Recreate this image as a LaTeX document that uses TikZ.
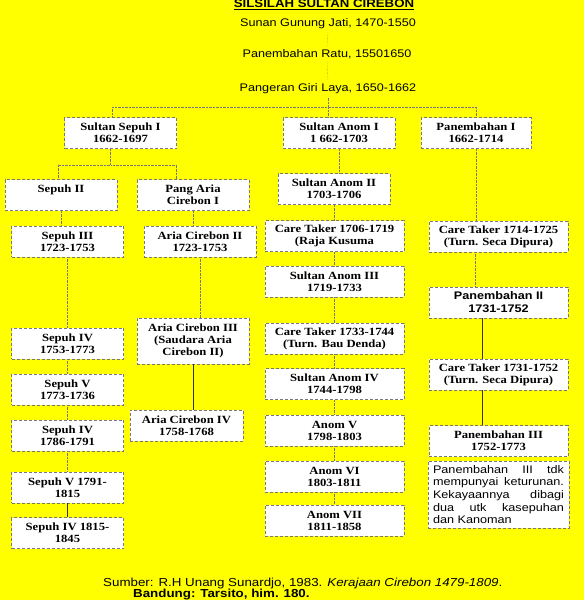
\documentclass[tikz,border=0pt]{standalone}
\usepackage{fontspec}
\setmainfont{Liberation Serif}[FakeStretch=1.15]
\setsansfont{Liberation Sans}[FakeStretch=1.15]
\usetikzlibrary{positioning}
\definecolor{bgyellow}{RGB}{255,255,0}
\definecolor{boxline}{RGB}{120,120,120}

\begin{document}
\begin{tikzpicture}[
  x=1pt, y=-1pt,
  box/.style={rectangle, draw=boxline, densely dashed, fill=white, align=center, inner sep=1pt, minimum width=112pt, minimum height=31pt, font=\fontsize{11}{12}\selectfont\bfseries},
  widebox/.style={box, minimum width=139pt},
  notebox/.style={box, minimum width=141pt, minimum height=67pt, text width=131pt, align=justify, inner xsep=5pt, font=\sffamily\fontsize{11}{12.7}\selectfont},
  link/.style={draw=boxline, densely dotted},
  strongline/.style={draw=black!80},
  headline/.style={font=\sffamily\fontsize{11}{13}\selectfont}
  ]
  \fill[bgyellow] (0,0) rectangle (584,600);
  \useasboundingbox (0,0) rectangle (584,600);

  % Heading
  \node[font=\sffamily\bfseries\fontsize{11.5}{13}\selectfont] (title) at (324,5) {\underline{SILSILAH SULTAN CIREBON}};
  \node[headline] (sunan) at (328,24) {Sunan Gunung Jati, 1470-1550};
  \node[headline] (ratu) at (327,54) {Panembahan Ratu, 15501650};
  \node[headline] (giri) at (328,89) {Pangeran Giri Laya, 1650-1662};
  \coordinate (bar) at (328,107);

  % Three houses
  \node[box] (sepuhI) at (120.5,133) {Sultan Sepuh I\\1662-1697};
  \node[box] (anomI) at (339,133) {Sultan Anom I\\1 662-1703};
  \node[box, minimum width=110pt] (panI) at (476,133) {Panembahan I\\1662-1714};

  % Kasepuhan
  \node[box] (sepuhII) at (61,195) {Sepuh II\\[1pt]};
  \node[box] (aria1) at (193,195) {Pang Aria\\Cirebon I};
  \node[box] (sepuhIII) at (67.5,241.5) {Sepuh III\\1723-1753};
  \node[box] (aria2) at (200,241.5) {Aria Cirebon II\\1723-1753};
  \node[box] (sepuhIV) at (67.5,343.5) {Sepuh IV\\1753-1773};
  \node[box, minimum height=46pt] (aria3) at (193,341) {Aria Cirebon III\\(Saudara Aria\\Cirebon II)};
  \node[box] (sepuhV) at (67.5,389.5) {Sepuh V\\1773-1736};
  \node[box, minimum width=113pt] (aria4) at (186.5,425.5) {Aria Cirebon IV\\1758-1768};
  \node[box] (sepuhIVb) at (67.5,435.5) {Sepuh IV\\1786-1791};
  \node[box] (sepuhVb) at (67.5,487.5) {Sepuh V 1791-\\1815};
  \node[box] (sepuhIVc) at (67.5,533) {Sepuh IV 1815-\\1845};

  % Kanoman
  \node[box] (anomII) at (334,189) {Sultan Anom II\\1703-1706};
  \node[widebox] (careA) at (334.5,236) {Care Taker 1706-1719\\(Raja Kusuma};
  \node[widebox] (anomIII) at (334.5,281.5) {Sultan Anom III\\1719-1733};
  \node[widebox] (careB) at (334.5,338.5) {Care Taker 1733-1744\\(Turn. Bau Denda)};
  \node[widebox] (anomIV) at (334.5,384) {Sultan Anom IV\\1744-1798};
  \node[widebox] (anomV) at (334.5,430.5) {Anom V\\1798-1803};
  \node[widebox] (anomVI) at (334.5,476.5) {Anom VI\\1803-1811};
  \node[widebox] (anomVII) at (334.5,520.5) {Anom VII\\1811-1858};

  % Panembahan
  \node[widebox] (careC) at (498.5,236.5) {Care Taker 1714-1725\\(Turn. Seca Dipura)};
  \node[widebox, font=\sffamily\bfseries\fontsize{11}{13}\selectfont] (panII) at (498.5,302.5) {Panembahan II\\1731-1752};
  \node[widebox] (careD) at (498.5,374.5) {Care Taker 1731-1752\\(Turn. Seca Dipura)};
  \node[widebox] (panIII) at (498.5,441) {Panembahan III\\1752-1773};
  \node[notebox] (note) at (498.5,494.5) {Panembahan III tdk\linebreak mempunyai keturunan.\linebreak Kekayaannya dibagi\linebreak dua utk kasepuhan\linebreak dan Kanoman};

  % Source
  \node[anchor=west, inner sep=0pt, font=\sffamily\fontsize{11.6}{13}\selectfont] (source) at (103,583) {Sumber: R.H Unang Sunardjo, 1983. \textit{Kerajaan Cirebon 1479-1809}.};
  \node[anchor=west, inner sep=0pt, font=\sffamily\bfseries\fontsize{11.6}{13}\selectfont] (city) at (133,595) {Bandung: Tarsito, him. 180.};

  % Lines
  \draw[link] (sunan.south) -- (ratu.north);
  \draw[link] (ratu.south) -- (giri.north);
  \draw[link] (giri.south) -- (bar);
  \draw[link] ([xshift=-8pt]sepuhI.north) |- (bar) -| (panI.north);
  \draw[link] (bar) -- (bar |- anomI.north);
  \draw[link] ([xshift=-10pt]sepuhI.south) -- ++(0,16) -| ([xshift=-3pt]sepuhII.north);
  \draw[link] ([xshift=-10pt]sepuhI.south) -- ++(0,16) -| ([xshift=-17pt]aria1.north);
  \foreach \a/\b in {sepuhII/sepuhIII, sepuhIII/sepuhIV, sepuhIV/sepuhV, sepuhV/sepuhIVb, sepuhIVb/sepuhVb,
    aria1/aria2, aria2/aria3,
    anomI/anomII, anomII/careA, careA/anomIII, anomIII/careB, careB/anomIV, anomIV/anomV, anomV/anomVI, anomVI/anomVII,
    panI/careC}
    \draw[link] (\a.south) -- (\a.south |- \b.north);
  \draw[link] ([xshift=-23pt]careC.south) -- ([xshift=-23pt]careC.south |- panII.north);
  \foreach \a/\b in {sepuhVb/sepuhIVc, aria3/aria4}
    \draw[strongline] (\a.south) -- (\a.south |- \b.north);
  \foreach \a/\b in {panII/careD, careD/panIII}
    \draw[strongline] ([xshift=-16pt]\a.south) -- ([xshift=-16pt]\a.south |- \b.north);
\end{tikzpicture}
\end{document}
